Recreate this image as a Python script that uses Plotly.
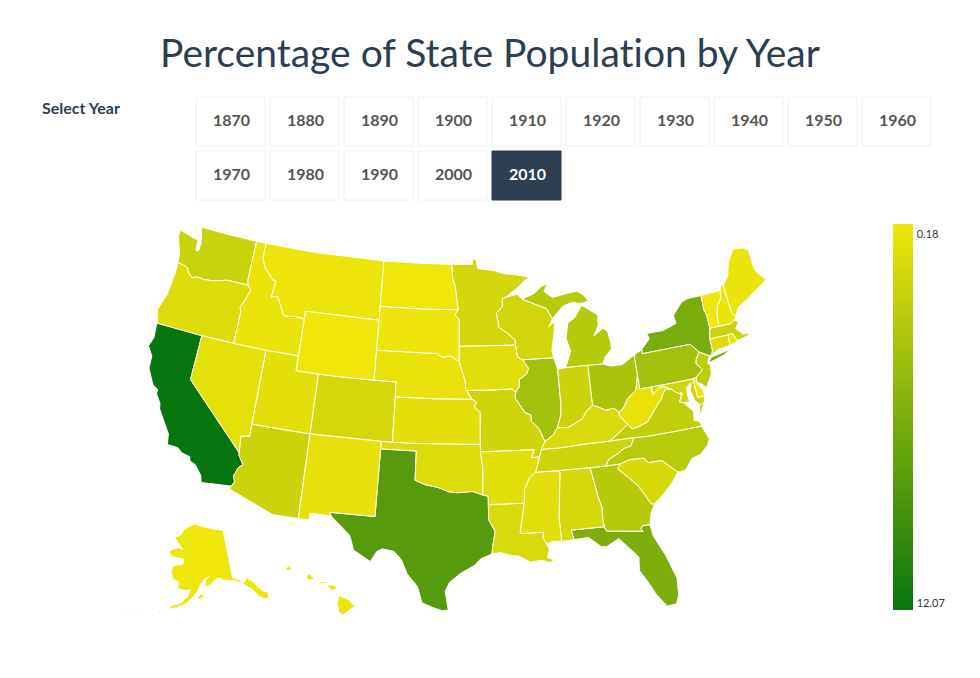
import plotly.graph_objects as go

# the page keeps its 8px body margin, positions below are measured on the whole window
PAGE_MARGIN = 8
WIDTH = 980 - 2 * PAGE_MARGIN
HEIGHT = 678 - 2 * PAGE_MARGIN

years = [1870, 1880, 1890, 1900, 1910, 1920, 1930, 1940, 1950, 1960,
         1970, 1980, 1990, 2000, 2010]
selected_year = 2010

states = ["CA", "TX", "NY", "FL", "IL", "PA", "OH", "MI", "GA", "NC", "NJ", "VA", "WA",
          "MA", "IN", "AZ", "TN", "MO", "MD", "WI", "MN", "CO", "AL", "SC", "LA", "KY",
          "OR", "OK", "CT", "IA", "MS", "AR", "KS", "UT", "NV", "NM", "WV", "NE", "ID",
          "HI", "ME", "NH", "RI", "MT", "DE", "SD", "AK", "ND", "VT", "DC", "WY"]
share = [12.07, 8.14, 6.29, 6.08, 4.15, 4.12, 3.74, 3.20, 3.14, 3.09, 2.85, 2.59, 2.18,
         2.11, 2.10, 2.07, 2.05, 1.94, 1.87, 1.84, 1.72, 1.62, 1.55, 1.49, 1.47, 1.41,
         1.24, 1.21, 1.16, 0.98, 0.96, 0.94, 0.92, 0.89, 0.87, 0.67, 0.60, 0.59, 0.51,
         0.44, 0.43, 0.42, 0.34, 0.32, 0.29, 0.26, 0.23, 0.22, 0.20, 0.19, 0.18]

# rough state outlines in lon/lat, the cdn topojson is not reachable offline
outlines = {
    "WA": [[(-124.7,48.4),(-123.2,48.15),(-122.75,48.12),(-122.65,47.4),(-122.4,47.4),(-122.35,47.9),(-122.5,48.4),(-122.75,49),(-120,49),(-117.03,49),(-117.04,46.42),(-116.92,45.99),(-118.98,46),(-119.3,45.93),(-120.2,45.73),(-121.2,45.65),(-121.8,45.7),(-122.3,45.55),(-122.8,45.85),(-122.95,46.1),(-123.4,46.2),(-124,46.26),(-124.1,46.9),(-124.4,47.4),(-124.7,48)]],
    "OR": [[(-124,46.26),(-123.4,46.2),(-122.95,46.1),(-122.8,45.85),(-122.3,45.55),(-121.8,45.7),(-121.2,45.65),(-120.2,45.73),(-119.3,45.93),(-118.98,46),(-116.92,45.99),(-116.55,45.75),(-116.85,45),(-117.2,44.45),(-117.03,44.2),(-117.03,43.8),(-117.03,42),(-120,42),(-124.2,42),(-124.55,42.84),(-124.1,44),(-124,45),(-123.95,45.9)]],
    "CA": [[(-124.2,42),(-120,42),(-120,39),(-114.63,35),(-114.57,34.8),(-114.13,34.26),(-114.45,34),(-114.7,33.4),(-114.52,33.03),(-114.72,32.72),(-117.12,32.53),(-117.3,33),(-117.9,33.6),(-118.4,33.75),(-118.5,34.03),(-119.2,34.15),(-119.6,34.42),(-120.5,34.45),(-120.65,35.15),(-121.9,36.6),(-122,36.96),(-122.5,37.5),(-122.5,37.8),(-123,38),(-123.75,39),(-123.8,39.8),(-124.35,40.4),(-124.1,41),(-124.2,41.75)]],
    "NV": [[(-120,42),(-117.03,42),(-114.04,42),(-114.04,37),(-114.04,36.2),(-114.75,36.1),(-114.63,35),(-120,39)]],
    "ID": [[(-117.03,49),(-116.05,49),(-116.05,48),(-115.7,47.45),(-114.7,46.7),(-114.35,46.65),(-114.5,45.55),(-113.9,45.65),(-113.45,45.05),(-113,44.45),(-112,44.55),(-111.05,44.48),(-111.05,42),(-114.04,42),(-117.03,42),(-117.03,43.8),(-117.03,44.2),(-117.2,44.45),(-116.85,45),(-116.55,45.75),(-116.92,45.99),(-117.04,46.42)]],
    "MT": [[(-116.05,49),(-111,49),(-104.05,49),(-104.05,45.94),(-104.05,45),(-111.05,45),(-111.05,44.48),(-112,44.55),(-113,44.45),(-113.45,45.05),(-113.9,45.65),(-114.5,45.55),(-114.35,46.65),(-114.7,46.7),(-115.7,47.45),(-116.05,48)]],
    "WY": [[(-111.05,45),(-104.05,45),(-104.05,43),(-104.05,41),(-107.5,41),(-109.05,41),(-111.05,41),(-111.05,42),(-111.05,44.48)]],
    "UT": [[(-114.04,42),(-111.05,42),(-111.05,41),(-109.05,41),(-109.05,37),(-114.04,37)]],
    "CO": [[(-109.05,41),(-107.5,41),(-104.05,41),(-102.05,41),(-102.05,40),(-102.05,37),(-103,37),(-109.05,37)]],
    "AZ": [[(-114.04,37),(-109.05,37),(-109.05,31.33),(-111.07,31.33),(-114.8,32.5),(-114.72,32.72),(-114.52,33.03),(-114.7,33.4),(-114.45,34),(-114.13,34.26),(-114.57,34.8),(-114.63,35),(-114.75,36.1),(-114.04,36.2)]],
    "NM": [[(-109.05,37),(-103,37),(-103,36.5),(-103.05,32),(-106.62,32),(-106.53,31.78),(-108.2,31.78),(-108.2,31.33),(-109.05,31.33)]],
    "TX": [[(-103,36.5),(-100,36.5),(-100,34.56),(-99.2,34.3),(-98.1,34.13),(-97.2,33.85),(-96.5,33.8),(-95.3,33.88),(-94.48,33.64),(-94.04,33.55),(-94.04,33),(-94.04,31.99),(-93.55,31.2),(-93.75,30.3),(-93.85,29.7),(-94.7,29.4),(-95.2,28.95),(-96.3,28.4),(-97.1,27.8),(-97.4,27.2),(-97.15,25.96),(-97.6,25.9),(-98.3,26.1),(-99.1,26.4),(-99.5,27.5),(-100.3,28.3),(-100.8,29.25),(-101.4,29.77),(-102.3,29.88),(-102.7,29.7),(-103.15,28.98),(-104.5,29.65),(-104.9,30.6),(-106.53,31.78),(-106.62,32),(-103.05,32)]],
    "OK": [[(-103,37),(-102.05,37),(-100,37),(-94.62,37),(-94.62,36.5),(-94.43,35.4),(-94.48,33.64),(-95.3,33.88),(-96.5,33.8),(-97.2,33.85),(-98.1,34.13),(-99.2,34.3),(-100,34.56),(-100,36.5),(-103,36.5)]],
    "KS": [[(-102.05,40),(-98.5,40),(-95.31,40),(-94.9,39.8),(-95.1,39.5),(-94.6,39.1),(-94.62,37),(-100,37),(-102.05,37)]],
    "NE": [[(-104.05,43),(-98.5,43),(-98,42.77),(-97.2,42.85),(-96.45,42.49),(-96.1,41.7),(-95.9,41.2),(-95.85,40.7),(-95.77,40.58),(-95.31,40),(-98.5,40),(-102.05,40),(-102.05,41),(-104.05,41)]],
    "SD": [[(-104.05,45.94),(-100,45.94),(-96.56,45.94),(-96.85,45.6),(-96.45,45.3),(-96.45,43.5),(-96.45,42.49),(-97.2,42.85),(-98,42.77),(-98.5,43),(-104.05,43),(-104.05,45)]],
    "ND": [[(-104.05,49),(-100,49),(-97.23,49),(-97.1,48),(-96.85,47.5),(-96.56,45.94),(-100,45.94),(-104.05,45.94)]],
    "MN": [[(-97.23,49),(-95.15,49),(-95.15,49.38),(-94.8,49.3),(-94.6,48.7),(-93,48.55),(-92,48.3),(-90.8,48.2),(-89.6,48),(-90.8,47.3),(-92,46.7),(-92.3,46.65),(-92.3,46.1),(-92.9,45.7),(-92.75,45),(-92.75,44.75),(-91.9,44.3),(-91.25,43.85),(-91.22,43.5),(-96.45,43.5),(-96.45,45.3),(-96.85,45.6),(-96.56,45.94),(-96.85,47.5),(-97.1,48)]],
    "IA": [[(-96.45,43.5),(-91.22,43.5),(-91.1,42.7),(-90.65,42.5),(-90.15,41.9),(-90.35,41.55),(-91.05,41.2),(-91.1,40.7),(-91.42,40.38),(-91.73,40.61),(-93.5,40.58),(-95.77,40.58),(-95.85,40.7),(-95.9,41.2),(-96.1,41.7),(-96.45,42.49)]],
    "MO": [[(-95.77,40.58),(-93.5,40.58),(-91.73,40.61),(-91.42,40.38),(-91.5,40),(-90.7,39),(-90.2,38.8),(-90.2,38.4),(-89.6,37.9),(-89.15,37),(-89.5,36.5),(-89.7,36),(-90.37,36),(-90.1,36.5),(-94.62,36.5),(-94.62,37),(-94.6,39.1),(-95.1,39.5),(-94.9,39.8),(-95.31,40)]],
    "AR": [[(-94.62,36.5),(-90.1,36.5),(-90.37,36),(-89.7,36),(-90.1,35),(-90.6,34.7),(-91.1,33.9),(-91.17,33),(-94.04,33),(-94.04,33.55),(-94.48,33.64),(-94.43,35.4)]],
    "LA": [[(-94.04,33),(-91.17,33),(-91.6,31),(-89.73,31),(-89.85,30.7),(-89.6,30.2),(-89.4,29.8),(-89.6,29.3),(-89.1,29.1),(-89.4,28.95),(-90.1,29.15),(-90.9,29.05),(-91.8,29.5),(-92.3,29.55),(-93.2,29.78),(-93.85,29.7),(-93.75,30.3),(-93.55,31.2),(-94.04,31.99)]],
    "MS": [[(-90.1,35),(-88.2,35),(-88.1,34.9),(-88.47,31.9),(-88.4,30.3),(-89.1,30.35),(-89.6,30.2),(-89.85,30.7),(-89.73,31),(-91.6,31),(-91.17,33),(-91.1,33.9),(-90.6,34.7)]],
    "AL": [[(-88.2,35),(-85.6,35),(-85.18,32.87),(-85,32.3),(-85.05,31.55),(-85,31),(-87.6,31),(-87.45,30.35),(-88.4,30.3),(-88.47,31.9),(-88.1,34.9)]],
    "GA": [[(-85.6,35),(-84.3,35),(-83.1,35),(-83.35,34.7),(-82.75,34.2),(-81.9,33.4),(-81.4,32.6),(-81.1,32.1),(-80.85,32.03),(-81.2,31.5),(-81.45,30.72),(-82,30.75),(-82.2,30.55),(-82.05,30.36),(-84.86,30.7),(-85,31),(-85.05,31.55),(-85,32.3),(-85.18,32.87)]],
    "FL": [[(-87.6,31),(-85,31),(-84.86,30.7),(-82.05,30.36),(-82.2,30.55),(-82,30.75),(-81.45,30.72),(-81.3,29.9),(-80.6,28.5),(-80.05,26.9),(-80.15,25.75),(-80.4,25.2),(-81.1,25.15),(-81.8,26.1),(-82.2,26.9),(-82.75,27.8),(-82.65,28.7),(-83.4,29.5),(-84,30.1),(-85,29.65),(-85.4,29.7),(-86.3,30.4),(-87.45,30.35)]],
    "SC": [[(-83.1,35),(-82.3,35.2),(-81.05,35.15),(-81.05,35.05),(-80.8,34.82),(-79.67,34.8),(-78.55,33.86),(-79.2,33.2),(-79.9,32.67),(-80.85,32.03),(-81.1,32.1),(-81.4,32.6),(-81.9,33.4),(-82.75,34.2),(-83.35,34.7)]],
    "NC": [[(-84.3,35),(-83.1,35),(-82.3,35.2),(-81.05,35.15),(-81.05,35.05),(-80.8,34.82),(-79.67,34.8),(-78.55,33.86),(-77.9,33.9),(-77.2,34.6),(-76.5,34.7),(-75.75,35.2),(-75.5,35.6),(-75.87,36.55),(-76.9,36.55),(-78,36.55),(-80.3,36.55),(-81.68,36.59),(-82,36.1),(-82.6,36),(-83.2,35.7),(-84,35.4)]],
    "TN": [[(-90.1,35),(-88.2,35),(-85.6,35),(-84.3,35),(-84,35.4),(-83.2,35.7),(-82.6,36),(-82,36.1),(-81.68,36.59),(-83.67,36.6),(-85.5,36.6),(-88.07,36.5),(-89.5,36.5),(-89.7,36)]],
    "KY": [[(-89.5,36.5),(-88.07,36.5),(-85.5,36.6),(-83.67,36.6),(-82.9,37.05),(-82,37.53),(-82.6,38.15),(-82.6,38.42),(-83,38.72),(-83.7,38.65),(-84.25,38.9),(-84.8,39.1),(-85.4,38.72),(-85.8,38.28),(-86.5,38),(-87.1,37.8),(-88,37.85),(-88.4,37.4),(-89.15,37)]],
    "IL": [[(-87.8,42.49),(-90.65,42.5),(-90.15,41.9),(-90.35,41.55),(-91.05,41.2),(-91.1,40.7),(-91.42,40.38),(-91.5,40),(-90.7,39),(-90.2,38.8),(-90.2,38.4),(-89.6,37.9),(-89.15,37),(-88.4,37.4),(-88,37.85),(-87.6,38.7),(-87.53,39.35),(-87.53,41.7)]],
    "IN": [[(-87.53,41.7),(-87.2,41.75),(-86.8,41.76),(-84.8,41.76),(-84.8,39.1),(-85.4,38.72),(-85.8,38.28),(-86.5,38),(-87.1,37.8),(-88,37.85),(-87.6,38.7),(-87.53,39.35)]],
    "OH": [[(-84.8,41.76),(-83.45,41.73),(-82.7,41.5),(-81.7,41.5),(-80.52,42),(-80.52,40.64),(-80.85,39.7),(-81.7,39.2),(-82.2,38.6),(-82.6,38.42),(-83,38.72),(-83.7,38.65),(-84.25,38.9),(-84.8,39.1)]],
    "MI": [[(-84.8,41.76),(-83.45,41.73),(-83.1,42.2),(-82.5,42.6),(-82.45,43),(-82.6,43.85),(-83,44.07),(-83.9,43.65),(-83.4,44.3),(-83.3,45),(-84.7,45.78),(-85.5,45),(-86.2,44.7),(-86.5,43.7),(-86.2,42.8),(-86.8,41.76)],
           [(-90.4,46.55),(-89.2,46.85),(-88.4,47.3),(-87.8,47.45),(-88.2,46.95),(-87.4,46.5),(-86.2,46.65),(-85,46.75),(-84.4,46.45),(-84,46),(-84.8,45.9),(-85.6,46.05),(-86.5,45.85),(-87.6,45.1),(-87.8,45.35),(-88.1,45.8),(-89.2,46.15)]],
    "WI": [[(-92.3,46.65),(-92,46.7),(-90.8,46.9),(-90.4,46.55),(-89.2,46.15),(-88.1,45.8),(-87.8,45.35),(-87.6,45.1),(-88,44.55),(-87.4,44.9),(-87.55,44.2),(-87.9,43),(-87.8,42.49),(-90.65,42.5),(-91.1,42.7),(-91.22,43.5),(-91.25,43.85),(-91.9,44.3),(-92.75,44.75),(-92.75,45),(-92.9,45.7),(-92.3,46.1)]],
    "PA": [[(-80.52,42),(-79.76,42.27),(-79.76,42),(-75.35,42),(-74.7,41.36),(-75.1,40.95),(-75.2,40.65),(-74.75,40.2),(-75.4,39.8),(-75.75,39.72),(-77.5,39.72),(-79.48,39.72),(-80.52,39.72),(-80.52,40.64)]],
    "NY": [[(-79.76,42.27),(-78.9,42.9),(-79.05,43.27),(-77.5,43.27),(-76.2,43.55),(-76.3,44.1),(-75.3,44.85),(-74.7,45),(-73.35,45),(-73.4,44),(-73.25,43.6),(-73.27,42.75),(-73.5,42.05),(-73.5,41.3),(-73.65,41),(-73.9,40.98),(-74.7,41.36),(-75.35,42),(-79.76,42)],
           [(-74.02,40.6),(-73.75,40.85),(-72.6,40.98),(-71.9,41.1),(-72.6,40.8),(-73.9,40.55)]],
    "NJ": [[(-74.7,41.36),(-73.9,40.98),(-74.2,40.5),(-73.98,40.4),(-74.1,39.75),(-74.8,38.95),(-75,39.2),(-75.55,39.5),(-75.4,39.8),(-74.75,40.2),(-75.2,40.65),(-75.1,40.95)]],
    "DE": [[(-75.75,39.72),(-75.4,39.8),(-75.55,39.5),(-75.1,38.8),(-75.05,38.45),(-75.7,38.46)]],
    "MD": [[(-79.48,39.72),(-77.5,39.72),(-75.75,39.72),(-75.7,38.46),(-75.05,38.45),(-75.25,38.03),(-75.65,37.95),(-76,38.3),(-76.2,39),(-76,39.5),(-76.5,39.2),(-76.5,38.4),(-76.4,38.3),(-76.95,38.3),(-77.3,38.4),(-77.04,38.79),(-76.91,38.89),(-77.04,39),(-77.12,38.93),(-77.5,39.1),(-77.75,39.32),(-78.4,39.6),(-78.8,39.6),(-79.48,39.2)]],
    "DC": [[(-77.12,38.93),(-77.04,39),(-76.91,38.89),(-77.04,38.79)]],
    "VA": [[(-83.67,36.6),(-81.68,36.59),(-80.3,36.55),(-78,36.55),(-76.9,36.55),(-75.87,36.55),(-76,36.9),(-76.4,37),(-76.3,37.6),(-76.95,38.3),(-77.3,38.4),(-77.04,38.79),(-77.12,38.93),(-77.5,39.1),(-77.75,39.32),(-78.35,39.4),(-78.87,38.77),(-79.3,38.42),(-80.3,37.5),(-81.2,37.25),(-81.7,37.2),(-82,37.53),(-82.9,37.05)],
           [(-75.25,38.03),(-75.65,37.95),(-75.95,37.15),(-75.65,37.5)]],
    "WV": [[(-80.52,40.64),(-80.52,39.72),(-79.48,39.72),(-79.48,39.2),(-78.8,39.6),(-78.4,39.6),(-77.75,39.32),(-78.35,39.4),(-78.87,38.77),(-79.3,38.42),(-80.3,37.5),(-81.2,37.25),(-81.7,37.2),(-82,37.53),(-82.6,38.15),(-82.6,38.42),(-82.2,38.6),(-81.7,39.2),(-80.85,39.7)]],
    "CT": [[(-73.5,42.05),(-71.8,42.02),(-71.85,41.32),(-72.9,41.25),(-73.65,41),(-73.5,41.3)]],
    "RI": [[(-71.8,42.02),(-71.38,42.02),(-71.15,41.5),(-71.5,41.37),(-71.85,41.32)]],
    "MA": [[(-73.5,42.05),(-73.27,42.75),(-72.46,42.73),(-71.3,42.7),(-70.9,42.88),(-70.6,42.65),(-71,42.3),(-70.6,41.95),(-70.5,41.8),(-70.05,41.8),(-70.2,42.07),(-69.95,41.85),(-70,41.65),(-70.65,41.55),(-71.15,41.5),(-71.38,42.02),(-71.8,42.02)]],
    "VT": [[(-73.35,45),(-71.5,45),(-71.6,44.5),(-72.05,44.1),(-72.3,43.6),(-72.46,42.73),(-73.27,42.75),(-73.25,43.6),(-73.4,44)]],
    "NH": [[(-71.5,45),(-71.3,45.3),(-71.08,45.3),(-70.98,43.4),(-70.7,43.07),(-70.9,42.88),(-71.3,42.7),(-72.46,42.73),(-72.3,43.6),(-72.05,44.1),(-71.6,44.5)]],
    "ME": [[(-71.08,45.3),(-70.4,45.8),(-70.25,46.2),(-70,46.7),(-69.2,47.45),(-68.3,47.35),(-67.8,47.07),(-67.8,45.7),(-67.45,45.3),(-67,44.85),(-68.5,44.3),(-69.1,44),(-70.2,43.65),(-70.7,43.07),(-70.98,43.4)]],
    "HI": [[(-155.9,20.25),(-155.2,19.95),(-154.8,19.5),(-155.65,18.95),(-155.9,19.1),(-156.05,19.75)],
           [(-156.7,20.95),(-156.3,20.95),(-156,20.75),(-156.4,20.58),(-156.7,20.85)],
           [(-158.28,21.55),(-157.95,21.7),(-157.65,21.3),(-158.1,21.3)],
           [(-159.75,22.1),(-159.4,22.22),(-159.3,22),(-159.6,21.9)],
           [(-157.3,21.2),(-156.75,21.17),(-156.9,21.05),(-157.3,21.08)]],
    "AK": [[(-141,69.65),(-141,60.3),(-139,60),(-137.5,58.9),(-135.5,59.8),(-133.5,58.4),(-131.8,56.6),(-130,55.9),(-130.6,54.75),(-132,55),(-133.5,55.8),(-135,57.5),(-136.5,58.2),(-138,59),(-140,59.7),(-142.5,60),(-144.5,60.3),(-146.5,60.8),(-148.3,60.3),(-149.5,59.7),(-151.8,59.2),(-151.5,60.7),(-150,61.2),(-152.5,60.5),(-153.8,59.5),(-154.5,58.5),(-156.5,57.2),(-158.5,56),(-160.5,55.4),(-163,54.8),(-164.8,54.6),(-163,55.5),(-160.5,56),(-158,57.5),(-157.3,58.7),(-159,58.5),(-162,58.7),(-162,60),(-164.5,60.5),(-165.5,62),(-164.8,63),(-161,63.5),(-161,64.5),(-163,64.5),(-166.5,64.6),(-168.1,65.6),(-164,66.5),(-161.8,66.2),(-163.8,67.1),(-166.8,68.35),(-164,68.9),(-162,70.3),(-156.6,71.35),(-152,70.85),(-146,70.2)],
           [(-154.7,57.3),(-153.3,58),(-152.2,57.6),(-153.8,56.9)],
           [(-167.9,53.5),(-166.3,54),(-166.6,53.5)],
           [(-170,52.8),(-168.5,53.2),(-168.7,52.9)],
           [(-174.5,52.2),(-172.5,52.4),(-174,52)],
           [(-178,51.9),(-176.5,52),(-177,51.7)]],
}


def clockwise(ring):
    # d3 treats counter clockwise rings as the whole globe minus the ring
    closed = ring + [ring[0]]
    area = sum(a[0] * b[1] - b[0] * a[1] for a, b in zip(closed, closed[1:]))
    return closed if area < 0 else closed[::-1]


features = []
for code, rings in outlines.items():
    features.append(dict(
        type="Feature", id=code,
        geometry=dict(type="MultiPolygon", coordinates=[[clockwise(r)] for r in rings]),
    ))
geojson = dict(type="FeatureCollection", features=features)


def px(x):
    return (x - PAGE_MARGIN) / WIDTH


def py(y):
    return 1 - (y - PAGE_MARGIN) / HEIGHT


fig = go.Figure()

# first trace has plain lon/lat, then plotly does not go looking for its topojson
fig.add_trace(go.Scattergeo(
    lon=[-98], lat=[39], mode="markers", marker=dict(size=1, opacity=0),
    hoverinfo="skip", showlegend=False,
))

# colour bar runs from small at the top to big at the bottom, so z is negated
fig.add_trace(go.Choropleth(
    geojson=geojson,
    locations=states,
    z=[-v for v in share],
    zmin=-max(share), zmax=-min(share),
    text=[f"{s}: {v}" for s, v in zip(states, share)],
    hoverinfo="text",
    colorscale=[[0, "#08760f"], [1, "#f0e60a"]],
    marker=dict(line=dict(color="white", width=1)),
    colorbar=dict(
        lenmode="pixels", len=386, thickness=20,
        x=px(893), xanchor="left", xpad=0,
        y=py(224), yanchor="top", ypad=0,
        outlinewidth=0, ticks="outside", ticklen=2, tickcolor="rgba(0,0,0,0)",
        tickvals=[-0.49, -11.87],
        ticktext=[f"{min(share)}", f"{max(share)}"],
        tickfont=dict(family="Lato", size=11, color="#333333"),
    ),
))

shapes = []
annotations = [
    # no ti ligature in the original title
    dict(text='<span style="font-variant-ligatures:none">Percentage of State Population by Year</span>',
         x=px(489.5), y=py(52),
         xanchor="center", yanchor="middle", showarrow=False,
         font=dict(family="Lato", size=39, color="#2c3e50")),
    dict(text="<b>Select Year</b>", x=px(40), y=py(108),
         xanchor="left", yanchor="middle", showarrow=False,
         font=dict(family="Lato", size=16, color="#2c3e50")),
]

# year buttons, two rows of ten
for i, year in enumerate(years):
    left = 196 + (i % 10) * 74
    top = 97 + (i // 10) * 54
    chosen = year == selected_year
    shapes.append(dict(
        type="rect", xref="paper", yref="paper",
        x0=px(left), x1=px(left + 69), y0=py(top), y1=py(top + 49),
        fillcolor="#2c3e50" if chosen else "white",
        line=dict(color="#2c3e50" if chosen else "#f0f0f0", width=1),
    ))
    annotations.append(dict(
        text=f"<b>{year}</b>", x=px(left + 35), y=py(top + 22),
        xanchor="center", yanchor="middle", showarrow=False,
        font=dict(family="Lato", size=16, color="white" if chosen else "#555555"),
    ))

fig.update_layout(
    width=WIDTH, height=HEIGHT,
    margin=dict(l=0, r=0, t=0, b=0),
    paper_bgcolor="white",
    shapes=shapes,
    annotations=annotations,
    geo=dict(
        scope="usa",
        projection=dict(type="albers usa"),
        domain=dict(x=[px(67), px(847)], y=[py(644.5), py(193)]),
        bgcolor="rgba(0,0,0,0)",
        showland=False, showlakes=False, showcoastlines=False, showsubunits=False,
        showcountries=False, showframe=False, showocean=False, showrivers=False,
    ),
)

fig.write_html("out.html")
